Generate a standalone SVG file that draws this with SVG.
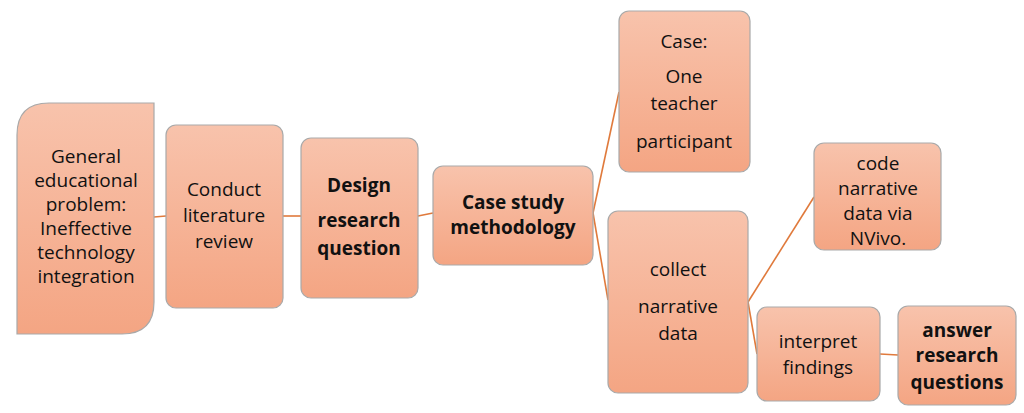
<svg xmlns="http://www.w3.org/2000/svg" width="1024" height="413" viewBox="0 0 1024 413">
<defs>
<linearGradient id="g" x1="0" y1="0" x2="0" y2="1"><stop offset="0" stop-color="#f8c3ac"/><stop offset="1" stop-color="#f4a583"/></linearGradient>
<style>
.n{fill:url(#g);stroke:#a9a9a9;stroke-width:1.2}
.t{font-family:"Open Sans","Liberation Sans",sans-serif;font-size:19px;fill:#111;text-anchor:middle}
.b{font-weight:bold}
.c{stroke:#e07a3c;stroke-width:1.6;fill:none}
</style>
</defs>
<rect width="1024" height="413" fill="#fff"/>
<g id="connectors">
<line class="c" x1="154" y1="217" x2="166" y2="216"/>
<line class="c" x1="283" y1="216" x2="301" y2="216"/>
<line class="c" x1="418" y1="216" x2="433" y2="213"/>
<line class="c" x1="593" y1="213" x2="619" y2="92"/>
<line class="c" x1="593" y1="213" x2="608" y2="300"/>
<line class="c" x1="748" y1="302" x2="814" y2="197"/>
<line class="c" x1="748" y1="302" x2="757" y2="354"/>
<line class="c" x1="880" y1="354" x2="898" y2="355"/>
</g>
<g id="n1"><path class="n" d="M17 334 V135 Q17 103 49 103 H154 V302 Q154 334 122 334 Z"/>
<text class="t" x="86"><tspan x="86" y="163">General</tspan><tspan x="86" y="187">educational</tspan><tspan x="86" y="211">problem:</tspan><tspan x="86" y="235">Ineffective</tspan><tspan x="86" y="259">technology</tspan><tspan x="86" y="283">integration</tspan></text></g>
<g id="n2"><rect class="n" x="166" y="125" width="117" height="183" rx="10"/>
<text class="t"><tspan x="224" y="196">Conduct</tspan><tspan x="224" y="222">literature</tspan><tspan x="224" y="248">review</tspan></text></g>
<g id="n3"><rect class="n" x="301" y="138" width="117" height="160" rx="10"/>
<text class="t b"><tspan x="359" y="192">Design</tspan><tspan x="359" y="227">research</tspan><tspan x="359" y="255">question</tspan></text></g>
<g id="n4"><rect class="n" x="433" y="166" width="160" height="99" rx="10"/>
<text class="t b"><tspan x="513" y="209">Case study</tspan><tspan x="513" y="234">methodology</tspan></text></g>
<g id="n5"><rect class="n" x="619" y="11" width="131" height="161" rx="10"/>
<text class="t"><tspan x="684" y="48">Case:</tspan><tspan x="684" y="83">One</tspan><tspan x="684" y="110">teacher</tspan><tspan x="684" y="148">participant</tspan></text></g>
<g id="n6"><rect class="n" x="608" y="211" width="140" height="182" rx="10"/>
<text class="t"><tspan x="678" y="276">collect</tspan><tspan x="678" y="313">narrative</tspan><tspan x="678" y="340">data</tspan></text></g>
<g id="n7"><rect class="n" x="814" y="143" width="127" height="107" rx="10"/>
<text class="t"><tspan x="878" y="170">code</tspan><tspan x="878" y="195">narrative</tspan><tspan x="878" y="220">data via</tspan><tspan x="878" y="245">NVivo.</tspan></text></g>
<g id="n8"><rect class="n" x="757" y="307" width="123" height="94" rx="10"/>
<text class="t"><tspan x="818" y="348">interpret</tspan><tspan x="818" y="374">findings</tspan></text></g>
<g id="n9"><rect class="n" x="898" y="306" width="118" height="99" rx="10"/>
<text class="t b"><tspan x="957" y="337">answer</tspan><tspan x="957" y="362">research</tspan><tspan x="957" y="389">questions</tspan></text></g>
</svg>
